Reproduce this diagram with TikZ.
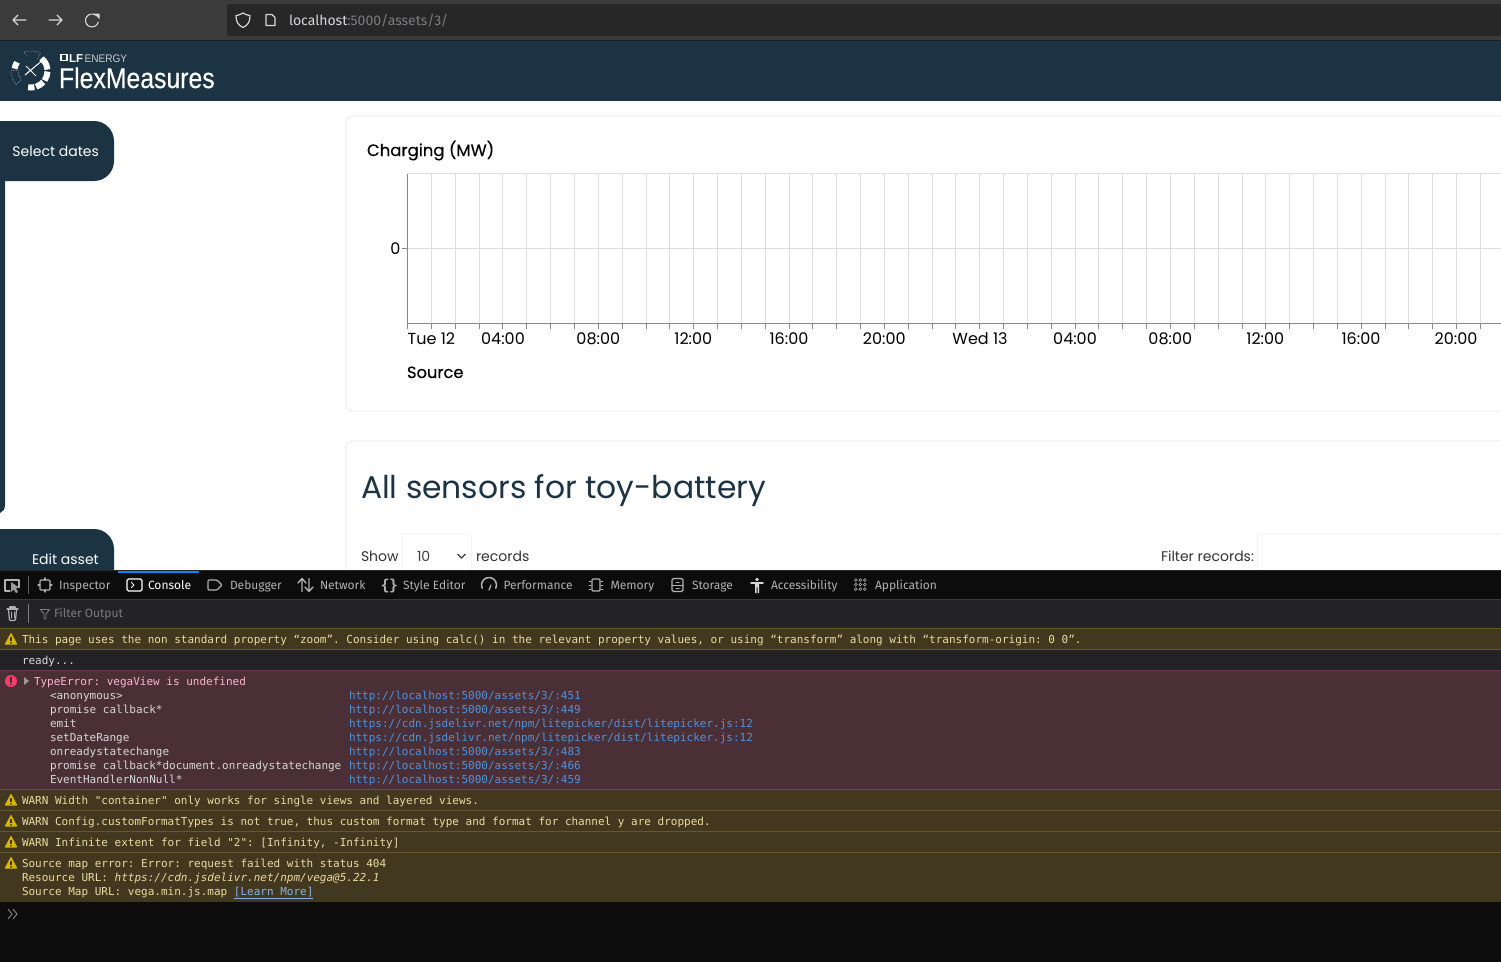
\documentclass[tikz,border=0pt]{standalone}
\usepackage{fontspec}
\setmainfont{Poppins}
\newfontfamily\medf[FakeBold=0.25]{Poppins}
\newfontfamily\monof{DejaVu Sans Mono}
\newfontfamily\uif{Fira Sans}
\newfontfamily\logof{Liberation Sans}
\newfontfamily\logobf[FakeBold=0.4]{Liberation Sans}
\frenchspacing
\definecolor{hdr}{HTML}{1C3344}
\definecolor{browser}{HTML}{3B3B3B}
\definecolor{urlbar}{HTML}{272727}
\definecolor{devbar}{HTML}{0C0C0D}
\definecolor{conbg}{HTML}{232327}
\definecolor{warnbg}{HTML}{42381F}
\definecolor{warnln}{HTML}{625A2A}
\definecolor{errbg}{HTML}{4B2F36}
\definecolor{errln}{HTML}{6E3A4C}
\definecolor{warntx}{HTML}{EBDBA0}
\definecolor{errtx}{HTML}{FFB3D2}
\definecolor{logtx}{HTML}{D7D7DB}
\definecolor{linktx}{HTML}{4F93DC}
\definecolor{uitx}{HTML}{B1B1B3}
\definecolor{dimtx}{HTML}{7C7C80}
\definecolor{gridc}{HTML}{DDDDDD}
\definecolor{axisc}{HTML}{888888}
\definecolor{cardln}{HTML}{F3F3F3}
\definecolor{yel}{HTML}{D7B600}
\definecolor{errred}{HTML}{FF3B6B}
\definecolor{selblue}{HTML}{0A84FF}
\tikzset{
  tx/.style={anchor=base west,inner sep=0pt,outer sep=0pt},
  mono/.style={tx,font=\monof\fontsize{11}{13}\selectfont},
  wmono/.style={mono,text=warntx},
  lmono/.style={mono,text=logtx},
  linkm/.style={mono,text=linktx},
  uilab/.style={tx,font=\uif\fontsize{12}{14}\selectfont,text=uitx},
  tlab/.style={anchor=base,inner sep=0pt,font=\fontsize{16}{18}\selectfont,text=black},
  icon/.style={draw=#1,line width=1.2pt,line cap=round,line join=round},
  icon/.default=uitx,
  warnpic/.pic={\fill[yel,rounded corners=.8pt] (-6.5,5.5)--(0,-6.5)--(6.5,5.5)--cycle;
    \fill[warnbg] (-.9,-2.2) rectangle (.9,2); \fill[warnbg] (0,3.8) circle[radius=1];},
  logoarc/.style={draw=white,line width=6pt},
  logodash/.style={draw=white!75!hdr,line width=.5pt,densely dotted}
}
\begin{document}
\begin{tikzpicture}[x=1pt,y=-1pt]
\useasboundingbox (0,0) rectangle (1501,962);
\fill[white] (0,0) rectangle (1501,962);
% browser chrome
\fill[browser] (0,0) rectangle (1501,40);
\fill[urlbar,rounded corners=2.5pt] (227,4) rectangle (1501,36);
\draw[icon=logtx] (26,20)--(13,20) (18,15)--(13,20)--(18,25);
\draw[icon=logtx] (49,20)--(62,20) (57,15)--(62,20)--(57,25);
\begin{scope}[shift={(92,20.5)},x=1pt,y=1pt]
\draw[icon=logtx,line width=1.1pt] (55:6.5) arc (55:345:6.5);
\fill[logtx] (7.5,7)--(7.5,1.5)--(2,7)--cycle;
\end{scope}
\draw[icon=logtx] (236,15.5) .. controls (240,15) and (241,14) .. (243,13) .. controls (245,14) and (246,15) .. (250,15.5) .. controls (250,22) and (248,25) .. (243,27.5) .. controls (238,25) and (236,22) .. (236,15.5) -- cycle;
\draw[icon=logtx] (266,14.5)--(272,14.5)--(275,17.5)--(275,25.5)--(266,25.5)--cycle;
\node[tx,font=\uif\fontsize{14}{16}\selectfont,text=logtx] (url) at (289,25) {localhost\textcolor{dimtx}{:5000/assets/3/}};
% header
\fill[hdr] (0,41) rectangle (1501,101);
\draw[black!50!browser,line width=1pt] (0,40.5)--(1501,40.5);
\begin{scope}[shift={(31,71)},x=1pt,y=1pt]
\draw[logoarc] (50:16.5) arc (50:5:16.5);
\draw[logoarc] (-2:16.5) arc (-2:-35:16.5);
\draw[logoarc] (-42:16.5) arc (-42:-72:16.5);
\draw[logoarc] (-78:16.5) arc (-78:-100:16.5);
\draw[logoarc] (172:16.5) arc (172:148:16.5);
\draw[logodash] (110:20) arc (110:62:20) -- (62:14) (110:20)--(105:15);
\draw[logodash] (178:13) arc (178:222:13) -- (222:20) arc (222:178:20) -- cycle;
\draw[white,line width=1pt] (-5,5)--(5,-5) (-6,-4)--(13,12);
\end{scope}
\draw[white,line width=1.4pt] (61,54.5) rectangle (67,60.5);
\node[tx,font=\logof\bfseries\fontsize{11.5}{12}\selectfont,text=white] (lfa) at (69,62) {LF};
\node[tx,font=\logof\fontsize{11}{12}\selectfont,text=white!75!hdr] (lfb) at (84.5,62) {\scalebox{.92}[1]{ENERGY}};
\node[tx,font=\logobf\fontsize{28.5}{30}\selectfont,text=white] (fm) at (59,88) {\scalebox{.87}[1]{FlexMeasures}};
% left side
\fill[hdr] (0,175) -- (5,175) -- (5,505) .. controls (5,509) and (3,512) .. (0,513) -- cycle;
\begin{scope}
\clip (0,100) rectangle (200,570);
\fill[hdr,rounded corners=20pt] (-30,121) rectangle (114,181);
\fill[hdr,rounded corners=20pt] (-30,529) rectangle (114,600);
\end{scope}
\node[tx,font=\fontsize{14}{16}\selectfont,text=white] (seld) at (12.5,156) {Select dates};
\node[tx,font=\fontsize{14}{16}\selectfont,text=white] (edit) at (32,564) {Edit asset};
% cards
\begin{scope}
\clip (0,101) rectangle (1501,570);
\draw[cardln,line width=1.5pt,rounded corners=6pt,fill=white] (346,116) rectangle (1540,411);
\draw[cardln,line width=1.5pt,rounded corners=6pt,fill=white] (346,441) rectangle (1540,600);
\end{scope}
\node[tx,font=\medf\fontsize{16.5}{20}\selectfont,text=black] (chgt) at (367,156) {Charging (MW)};
% chart grid
\foreach \i in {1,...,46}{
  \pgfmathsetmacro{\xx}{407.5+23.84*\i}
  \draw[gridc,line width=.8pt] (\xx,174)--(\xx,323.5);
  \draw[axisc,line width=.8pt] (\xx,323.5)--(\xx,329);
}
\draw[gridc,line width=.8pt] (407.5,248.5)--(1501,248.5);
\draw[gridc,line width=.8pt] (407.5,173.5)--(1501,173.5);
\draw[axisc,line width=1pt] (407.5,173.5)--(407.5,329);
\draw[axisc,line width=1pt] (402,248.5)--(407.5,248.5);
\draw[axisc,line width=1pt] (407.5,323.5)--(1501,323.5);
\node[anchor=base east,inner sep=0pt,font=\fontsize{16}{18}\selectfont,text=black] (y0) at (400.5,254) {0};
\node[tlab,anchor=base west] (t0) at (407.5,344) {Tue 12};
\node[tlab] (t1) at (503,344) {04:00};
\node[tlab] (t2) at (598.3,344) {08:00};
\node[tlab] (t3) at (693.3,344) {12:00};
\node[tlab] (t4) at (789,344) {16:00};
\node[tlab] (t5) at (884.3,344) {20:00};
\node[tlab] (t6) at (980,344) {Wed 13};
\node[tlab] (t7) at (1075,344) {04:00};
\node[tlab] (t8) at (1170.3,344) {08:00};
\node[tlab] (t9) at (1265.3,344) {12:00};
\node[tlab] (t10) at (1361,344) {16:00};
\node[tlab] (t11) at (1456,344) {20:00};
\node[tx,font=\medf\fontsize{16.3}{18}\selectfont,text=black] (src) at (407,378) {Source};
% second card
\node[tx,font=\fontsize{31.4}{36}\selectfont,text=hdr] (allt) at (361,498) {All sensors for toy-battery};
\node[tx,font=\fontsize{14}{16}\selectfont,text=black!80] (show) at (361,561) {Show};
\begin{scope}
\clip (0,101) rectangle (1501,570);
\draw[cardln,line width=1pt,rounded corners=2pt] (402.5,534) rectangle (471.5,590);
\draw[cardln,line width=1pt,rounded corners=2pt] (1257.5,534) rectangle (1540,590);
\end{scope}
\node[tx,font=\fontsize{14}{16}\selectfont,text=black!75] (ten) at (417,561) {10};
\draw[black!75,line width=1.1pt] (457.5,554)--(461.5,558)--(465.5,554);
\node[tx,font=\fontsize{14}{16}\selectfont,text=black!80] (recs) at (476,561) {records};
\node[tx,font=\fontsize{14}{16}\selectfont,text=black!80] (filt) at (1161,561) {Filter records:};
% devtools
\fill[devbar] (0,570) rectangle (1501,600);
\draw[black!70!gray,line width=1pt] (0,570.5)--(1501,570.5);
\fill[selblue] (118,571) rectangle (199,573);
\fill[conbg] (0,600) rectangle (1501,628);
\draw[black!20!conbg!70!gray,line width=.8pt] (0,599.5)--(1501,599.5);
% icons toolbar
\draw[icon] (19,587.5)--(19,580)--(5,580)--(5,591)--(10,591);
\fill[uitx!130] (11,582)--(11,592)--(13.5,589.5)--(16,593)--(18,592)--(16,588.5)--(19,587.5)--cycle;
\draw[uitx!50!devbar,line width=.8pt] (28.5,576)--(28.5,594);
\draw[icon,rounded corners=1pt] (40,580) rectangle (50,590);
\draw[icon] (45,578)--(45,580) (45,590)--(45,592) (38,585)--(40,585) (50,585)--(52,585);
\node[uilab] (ins) at (59,589) {Inspector};
\draw[icon=white,rounded corners=1.5pt] (127,579) rectangle (142,591);
\draw[icon=white,line width=.9pt] (131.5,582.5)--(134,585)--(131.5,587.5);
\node[uilab,text=white] (con) at (148,589) {Console};
\draw[icon,rounded corners=1pt] (208,580)--(217,580)--(222,585)--(217,590)--(208,590)--cycle;
\node[uilab] (deb) at (230,589) {Debugger};
\draw[icon,line width=1.4pt] (302,591.5)--(302,578.5) (298,583)--(302,578.5)--(306,583) (309,578.5)--(309,591.5) (305,587)--(309,591.5)--(313,587);
\node[uilab] (net) at (320,589) {Network};
\node[tx,font=\monof\bfseries\fontsize{15}{15}\selectfont,text=uitx] (braces) at (380.5,590.5) {\{\kern-.5pt\}};
\node[uilab] (sty) at (403,589) {Style Editor};
\begin{scope}[shift={(489,585)},x=1pt,y=1pt]
\draw[icon,line width=1.5pt] (205:7.5) arc (205:-25:7.5);
\draw[icon] (0,-5)--(2,0);
\end{scope}
\node[uilab] (perf) at (503.5,589) {Performance};
\draw[icon,rounded corners=1pt] (592,579) rectangle (600,591);
\draw[icon=uitx,line width=.8pt] (589,581)--(591,581) (589,585)--(591,585) (589,589)--(591,589) (601,581)--(603,581) (601,585)--(603,585) (601,589)--(603,589);
\node[uilab] (mem) at (610.5,589) {Memory};
\draw[icon,rounded corners=1.5pt] (672,578.5) rectangle (683,591.5);
\draw[icon,line width=1pt] (672,585)--(683,585) (676,582)--(679,582) (676,588)--(679,588);
\node[uilab] (sto) at (692,589) {Storage};
\fill[logtx] (757,579.5) circle[radius=1.8];
\draw[icon=logtx,line width=1.5pt] (751,583)--(763,583);
\fill[logtx] (755,583) rectangle (759,587) (755,587) rectangle (756.5,593) (757.5,587) rectangle (759,593);
\node[uilab] (acc) at (771,589) {Accessibility};
\foreach \ix in {0,1,2} \foreach \iy in {0,1,2}
  \draw[uitx,line width=.6pt] (855.8+4.5*\ix,580+4.5*\iy) circle[radius=1.4];
\node[uilab] (app) at (875,589) {Application};
% filter row
\draw[icon] (7,609)--(18,609) (10,609)--(10,607)--(15,607)--(15,609);
\draw[icon,rounded corners=1pt] (8.5,609.5)--(9.5,620.5)--(15.5,620.5)--(16.5,609.5);
\draw[icon,line width=.8pt] (11,612)--(11,618) (14,612)--(14,618);
\draw[dimtx,line width=.8pt] (28.5,604)--(28.5,623);
\draw[dimtx,line width=.9pt,line join=round] (40.5,609.5)--(49.5,609.5)--(46,614)--(46,619)--(44,619)--(44,614)--cycle;
\node[uilab,text=dimtx] (filtout) at (54,617) {Filter Output};
% console rows
\fill[conbg] (0,628) rectangle (1501,962);
\fill[warnbg] (0,629) rectangle (1501,649.5);
\draw[warnln,line width=.8pt] (0,628.5)--(1501,628.5) (0,649.5)--(1501,649.5);
\pic at (11,639) {warnpic};
\node[wmono] (m1) at (22,643) {This page uses the non standard property “zoom”. Consider using calc() in the relevant property values, or using “transform” along with “transform-origin: 0 0”.};
\node[lmono] (m2) at (22,664) {ready...};
\fill[errbg] (0,671) rectangle (1501,789.5);
\draw[errln,line width=.8pt] (0,670.5)--(1501,670.5);
\fill[errred] (11,681) circle[radius=6];
\fill[errbg] (10.1,677) rectangle (11.9,682.5); \fill[errbg] (11,684.6) circle[radius=1.1];
\fill[uitx!80!errbg] (24,677)--(29,681)--(24,685)--cycle;
\node[mono,text=errtx] (m3) at (34,685) {TypeError: vegaView is undefined};
\node[lmono] (s1) at (50,699) {<anonymous>};
\node[lmono] (s2) at (50,713) {promise callback*};
\node[lmono] (s3) at (50,727) {emit};
\node[lmono] (s4) at (50,741) {setDateRange};
\node[lmono] (s5) at (50,755) {onreadystatechange};
\node[lmono] (s6) at (50,769) {promise callback*document.onreadystatechange};
\node[lmono] (s7) at (50,783) {EventHandlerNonNull*};
\node[linkm] (l1) at (349,699) {http://localhost:5000/assets/3/:451};
\node[linkm] (l2) at (349,713) {http://localhost:5000/assets/3/:449};
\node[linkm] (l3) at (349,727) {https://cdn.jsdelivr.net/npm/litepicker/dist/litepicker.js:12};
\node[linkm] (l4) at (349,741) {https://cdn.jsdelivr.net/npm/litepicker/dist/litepicker.js:12};
\node[linkm] (l5) at (349,755) {http://localhost:5000/assets/3/:483};
\node[linkm] (l6) at (349,769) {http://localhost:5000/assets/3/:466};
\node[linkm] (l7) at (349,783) {http://localhost:5000/assets/3/:459};
\fill[warnbg] (0,789.5) rectangle (1501,902);
\draw[warnln,line width=.8pt] (0,789.5)--(1501,789.5) (0,810.5)--(1501,810.5) (0,831.5)--(1501,831.5) (0,852.5)--(1501,852.5);
\pic at (11,800) {warnpic};
\pic at (11,821) {warnpic};
\pic at (11,842) {warnpic};
\pic at (11,863) {warnpic};
\node[wmono] (w1) at (22,804) {WARN Width "container" only works for single views and layered views.};
\node[wmono] (w2) at (22,825) {WARN Config.customFormatTypes is not true, thus custom format type and format for channel y are dropped.};
\node[wmono] (w3) at (22,846) {WARN Infinite extent for field "2": [Infinity, -Infinity]};
\node[wmono] (w4) at (22,867) {Source map error: Error: request failed with status 404};
\node[wmono] (w5) at (22,881) {Resource URL: \textit{https://cdn.jsdelivr.net/npm/vega@5.22.1}};
\node[wmono] (w6) at (22,895) {Source Map URL: vega.min.js.map \textcolor{linktx!70!white}{\underline{[Learn More]}}};
% input
\fill[devbar] (0,902) rectangle (1501,962);
\draw[uitx!70!devbar,line width=1pt] (8,909)--(12,914)--(8,919) (13,909)--(17,914)--(13,919);
\end{tikzpicture}
\end{document}
